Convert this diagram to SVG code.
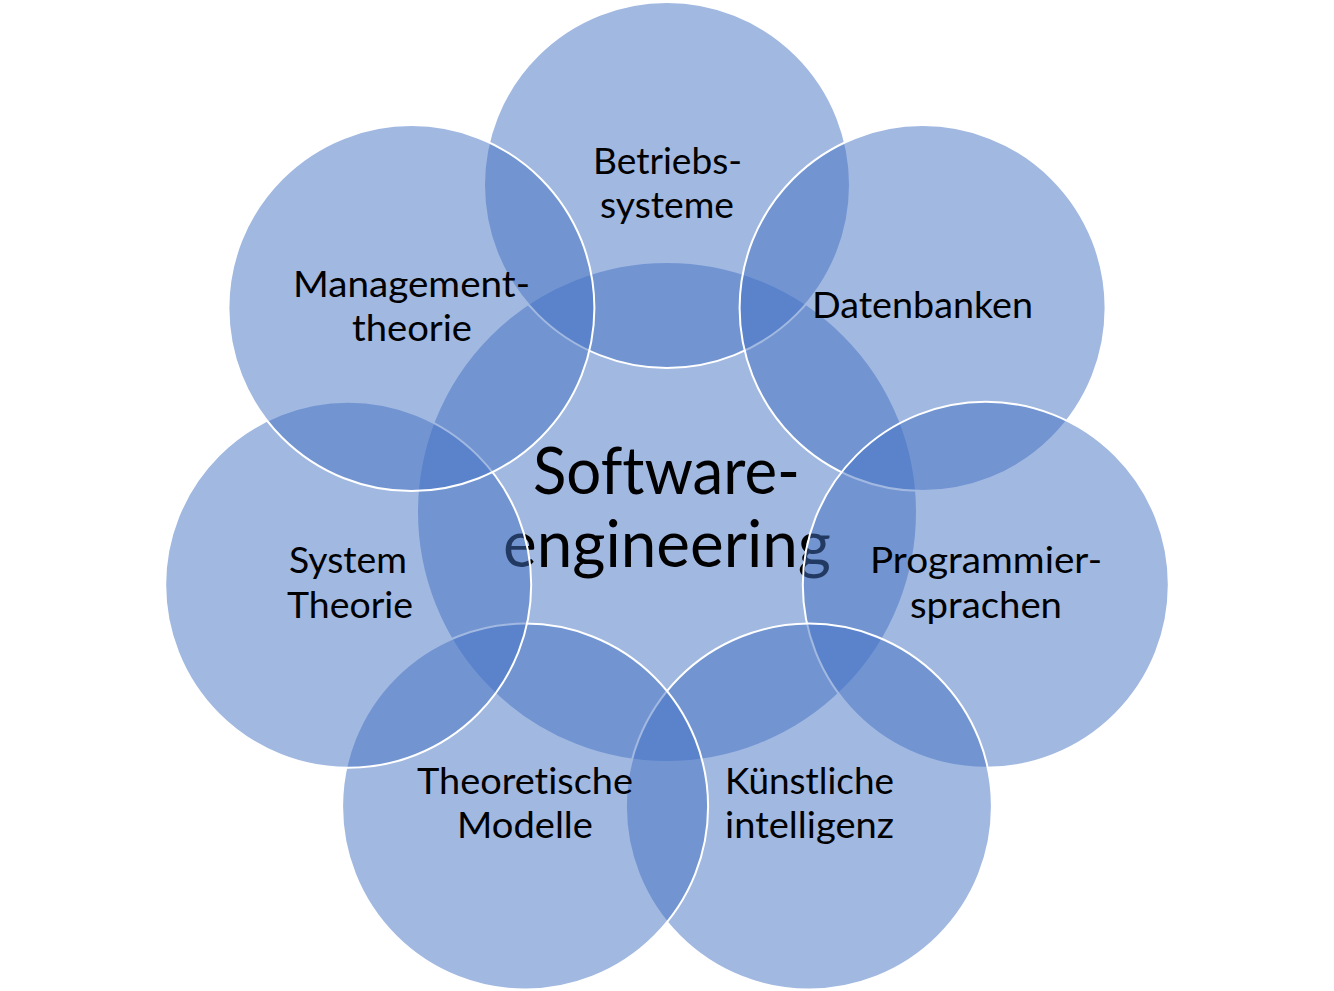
<svg xmlns="http://www.w3.org/2000/svg" width="1334" height="991" viewBox="0 0 1334 991">
<style>
.c{fill:#4472C4;fill-opacity:0.5;stroke:#FFFFFF;stroke-width:2}
.t{font-family:Lato,"Open Sans","Liberation Sans",sans-serif;font-size:36px;fill:#000000;text-anchor:middle;font-variant-ligatures:none}
.m{font-family:Lato,"Open Sans","Liberation Sans",sans-serif;font-size:65px;fill:#000000;text-anchor:middle;font-variant-ligatures:none}
</style>
<rect width="1334" height="991" fill="#FFFFFF"/>
<g id="center">
<circle class="c" cx="667" cy="512" r="250"/>
<text class="m" x="666.5" y="494" textLength="267" lengthAdjust="spacingAndGlyphs">Software-</text>
<text class="m" x="667" y="567" textLength="328" lengthAdjust="spacingAndGlyphs">engineering</text>
</g>
<g id="betriebssysteme">
<circle class="c" cx="667" cy="185" r="183"/>
<text class="t" x="667.5" y="174" textLength="149" lengthAdjust="spacingAndGlyphs">Betriebs-</text>
<text class="t" x="667" y="218" textLength="134" lengthAdjust="spacingAndGlyphs">systeme</text>
</g>
<g id="datenbanken">
<circle class="c" cx="922.6" cy="308.1" r="183"/>
<text class="t" x="922.5" y="318" textLength="221" lengthAdjust="spacingAndGlyphs">Datenbanken</text>
</g>
<g id="programmiersprachen">
<circle class="c" cx="985.8" cy="584.8" r="183"/>
<text class="t" x="986" y="573" textLength="232" lengthAdjust="spacingAndGlyphs">Programmier-</text>
<text class="t" x="986" y="618" textLength="152" lengthAdjust="spacingAndGlyphs">sprachen</text>
</g>
<g id="kuenstliche-intelligenz">
<circle class="c" cx="808.9" cy="806.6" r="183"/>
<text class="t" x="809.5" y="794" textLength="169" lengthAdjust="spacingAndGlyphs">Künstliche</text>
<text class="t" x="809.5" y="838" textLength="169" lengthAdjust="spacingAndGlyphs">intelligenz</text>
</g>
<g id="theoretische-modelle">
<circle class="c" cx="525.1" cy="806.6" r="183"/>
<text class="t" x="525" y="794" textLength="216" lengthAdjust="spacingAndGlyphs">Theoretische</text>
<text class="t" x="525" y="838" textLength="136" lengthAdjust="spacingAndGlyphs">Modelle</text>
</g>
<g id="system-theorie">
<circle class="c" cx="348.2" cy="584.8" r="183"/>
<text class="t" x="348" y="573" textLength="118" lengthAdjust="spacingAndGlyphs">System</text>
<text class="t" x="350" y="618" textLength="126" lengthAdjust="spacingAndGlyphs">Theorie</text>
</g>
<g id="managementtheorie">
<circle class="c" cx="411.4" cy="308.1" r="183"/>
<text class="t" x="411.5" y="297" textLength="237" lengthAdjust="spacingAndGlyphs">Management-</text>
<text class="t" x="412" y="341" textLength="120" lengthAdjust="spacingAndGlyphs">theorie</text>
</g>
</svg>
